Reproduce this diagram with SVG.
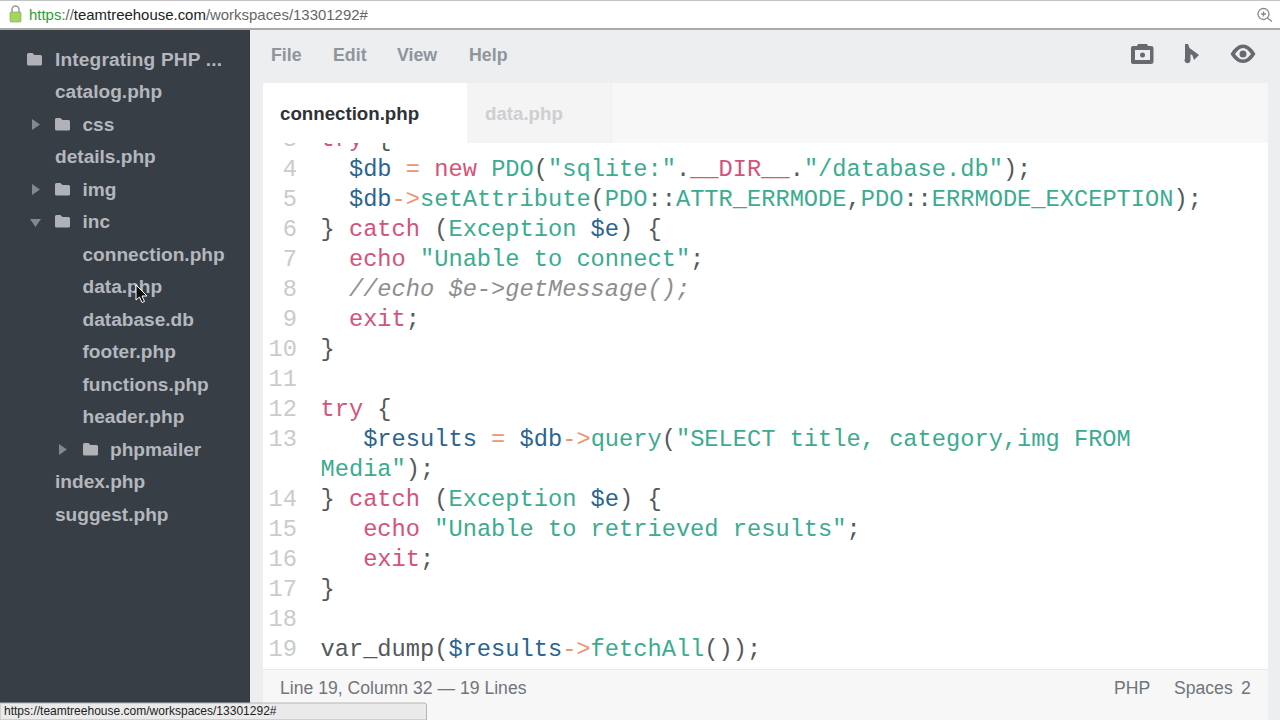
<svg xmlns="http://www.w3.org/2000/svg" width="1280" height="720" viewBox="0 0 1280 720">
<style>
.side{font:bold 19.1px "Liberation Sans",Arial,sans-serif;fill:#b4b7bd}
.menu{font:bold 17.8px "Liberation Sans",Arial,sans-serif;fill:#8f959b}
.ln{font:23.7px "Liberation Mono",monospace;fill:#c9cbcc;text-anchor:end}
.c{font:23.7px "Liberation Mono",monospace;fill:#55585b;white-space:pre}
.r{fill:#d4537a}.g{fill:#3bab91}.b{fill:#2a6490}.o{fill:#f0936f}.i{font-style:italic;fill:#8e8e8e}
.st{font:17.6px "Liberation Sans",Arial,sans-serif;fill:#70757a}
.fold{fill:#b0b2b7}.tri{fill:#84878c}
.icon{fill:#66696d}
</style>
<defs>
<clipPath id="codeclip"><rect x="263" y="143" width="1005" height="526"/></clipPath>
<path id="f" d="M0 1.500Q0 0 1.500 0H5.500L7.500 2H13.500Q15 2 15 3.500V11Q15 12.500 13.500 12.500H1.500Q0 12.500 0 11Z"/>
</defs>
<rect width="1280" height="720" fill="#eceef0"/>
<g id="browser-bar">
<rect width="1280" height="30" fill="#fff"/>
<rect y="0" width="1280" height="1" fill="#c4c4c4"/>
<rect y="28" width="1280" height="2" fill="#a9a9a9"/>
<rect x="10" y="12" width="11" height="10" rx="1" fill="#a4d65e" stroke="#8a9a60" stroke-width=".6"/>
<path d="M12 12V9.500a3.500 3.500 0 0 1 7 0V12" fill="none" stroke="#999" stroke-width="1.500"/>
<text x="29" y="20" font-family="Liberation Sans, Arial, sans-serif" font-size="14.950" fill="#666"><tspan fill="#2f9e2f">https</tspan>://<tspan fill="#222">teamtreehouse.com</tspan>/workspaces/13301292#</text>
<circle cx="1263.500" cy="14" r="5.500" fill="none" stroke="#888" stroke-width="1.300"/>
<path d="M1267.500 18L1272 21.500M1261 14H1266M1263.500 11.500V16.500" fill="none" stroke="#888" stroke-width="1.300"/>
</g>
<g id="sidebar">
<rect y="30" width="250" height="690" fill="#383e45"/>
<use href="#f" x="27" y="53" class="fold"/><text class="side" x="55" y="66" textLength="167" lengthAdjust="spacing">Integrating PHP ...</text>
<text class="side" x="55" y="98">catalog.php</text>
<path class="tri" d="M32 119L40 124.500L32 130Z"/><use href="#f" x="55" y="118" class="fold"/><text class="side" x="82.500" y="131">css</text>
<text class="side" x="55" y="163">details.php</text>
<path class="tri" d="M32 184L40 189.500L32 195Z"/><use href="#f" x="55" y="183" class="fold"/><text class="side" x="82.500" y="196">img</text>
<path class="tri" d="M30 219H41L35.500 227Z"/><use href="#f" x="55" y="215" class="fold"/><text class="side" x="82.500" y="228">inc</text>
<text class="side" x="82.500" y="261">connection.php</text>
<text class="side" x="82.500" y="293">data.php</text>
<text class="side" x="82.500" y="326">database.db</text>
<text class="side" x="82.500" y="358">footer.php</text>
<text class="side" x="82.500" y="391">functions.php</text>
<text class="side" x="82.500" y="423">header.php</text>
<path class="tri" d="M59 444L67 449.500L59 455Z"/><use href="#f" x="83" y="443" class="fold"/><text class="side" x="110" y="456">phpmailer</text>
<text class="side" x="55" y="488">index.php</text>
<text class="side" x="55" y="521">suggest.php</text>
</g>
<g id="menu">
<text class="menu" x="271" y="61">File</text>
<text class="menu" x="333" y="61">Edit</text>
<text class="menu" x="397" y="61">View</text>
<text class="menu" x="469" y="61">Help</text>
<g id="icons" class="icon">
<path fill-rule="evenodd" d="M1131 48Q1131 46 1133 46H1137L1138 44H1147L1148 46H1151Q1153.500 46 1153.500 48V62Q1153.500 64 1151 64H1133Q1131 64 1131 62ZM1135 50V60H1150V50Z"/>
<circle cx="1142.500" cy="55" r="2.500"/>
<path d="M1185 44H1188L1189.500 48L1199 55L1194 60L1192.500 55.500L1190.500 54V60a3 3 0 1 1-5.500-1.500Z"/>
<path fill-rule="evenodd" d="M1230.500 54Q1236 44.500 1243 44.500Q1250 44.500 1255.500 54Q1250 63 1243 63Q1236 63 1230.500 54ZM1235 54Q1239 59.500 1243 59.500Q1247 59.500 1251 54Q1247 48 1243 48Q1239 48 1235 54Z"/>
<circle cx="1243" cy="54" r="3.500"/>
</g>
</g>
<g id="editor">
<rect x="263" y="83" width="1005" height="60" fill="#f7f7f8"/>
<rect x="263" y="83" width="204" height="60" fill="#fff"/>
<rect x="467" y="83" width="145" height="60" fill="#f4f4f5"/>
<rect x="611" y="83" width="1" height="60" fill="#eeeeef"/>
<text x="280" y="120" font-family="Liberation Sans, Arial, sans-serif" font-weight="bold" font-size="18.700" fill="#2f3237">connection.php</text>
<text x="485" y="120" font-family="Liberation Sans, Arial, sans-serif" font-weight="bold" font-size="18.700" fill="#cdcfd2">data.php</text>
<rect x="263" y="143" width="1005" height="526" fill="#fff"/>
<g clip-path="url(#codeclip)">
<text class="ln" x="297" y="146">3</text>
<text class="ln" x="297" y="176">4</text>
<text class="ln" x="297" y="206">5</text>
<text class="ln" x="297" y="236">6</text>
<text class="ln" x="297" y="266">7</text>
<text class="ln" x="297" y="296">8</text>
<text class="ln" x="297" y="326">9</text>
<text class="ln" x="297" y="356">10</text>
<text class="ln" x="297" y="386">11</text>
<text class="ln" x="297" y="416">12</text>
<text class="ln" x="297" y="446">13</text>
<text class="ln" x="297" y="506">14</text>
<text class="ln" x="297" y="536">15</text>
<text class="ln" x="297" y="566">16</text>
<text class="ln" x="297" y="596">17</text>
<text class="ln" x="297" y="626">18</text>
<text class="ln" x="297" y="656">19</text>
<text class="c" xml:space="preserve" x="320.500" y="146"><tspan class="r">try</tspan> {</text>
<text class="c" xml:space="preserve" x="320.500" y="176">  <tspan class="b">$db</tspan> <tspan class="o">=</tspan> <tspan class="r">new</tspan> <tspan class="g">PDO</tspan>(<tspan class="g">"sqlite:"</tspan>.<tspan class="r">__DIR__</tspan>.<tspan class="g">"/database.db"</tspan>);</text>
<text class="c" xml:space="preserve" x="320.500" y="206">  <tspan class="b">$db</tspan><tspan class="o">-&gt;</tspan><tspan class="g">setAttribute</tspan>(<tspan class="g">PDO</tspan>::<tspan class="g">ATTR_ERRMODE</tspan>,<tspan class="g">PDO</tspan>::<tspan class="g">ERRMODE_EXCEPTION</tspan>);</text>
<text class="c" xml:space="preserve" x="320.500" y="236">} <tspan class="r">catch</tspan> (<tspan class="g">Exception</tspan> <tspan class="b">$e</tspan>) {</text>
<text class="c" xml:space="preserve" x="320.500" y="266">  <tspan class="r">echo</tspan> <tspan class="g">"Unable to connect"</tspan>;</text>
<text class="c" xml:space="preserve" x="320.500" y="296">  <tspan class="i">//echo $e-&gt;getMessage();</tspan></text>
<text class="c" xml:space="preserve" x="320.500" y="326">  <tspan class="r">exit</tspan>;</text>
<text class="c" xml:space="preserve" x="320.500" y="356">}</text>
<text class="c" xml:space="preserve" x="320.500" y="416"><tspan class="r">try</tspan> {</text>
<text class="c" xml:space="preserve" x="320.500" y="446">   <tspan class="b">$results</tspan> <tspan class="o">=</tspan> <tspan class="b">$db</tspan><tspan class="o">-&gt;</tspan><tspan class="g">query</tspan>(<tspan class="g">"SELECT title, category,img FROM</tspan></text>
<text class="c" xml:space="preserve" x="320.500" y="476"><tspan class="g">Media"</tspan>);</text>
<text class="c" xml:space="preserve" x="320.500" y="506">} <tspan class="r">catch</tspan> (<tspan class="g">Exception</tspan> <tspan class="b">$e</tspan>) {</text>
<text class="c" xml:space="preserve" x="320.500" y="536">   <tspan class="r">echo</tspan> <tspan class="g">"Unable to retrieved results"</tspan>;</text>
<text class="c" xml:space="preserve" x="320.500" y="566">   <tspan class="r">exit</tspan>;</text>
<text class="c" xml:space="preserve" x="320.500" y="596">}</text>
<text class="c" xml:space="preserve" x="320.500" y="656">var_dump(<tspan class="b">$results</tspan><tspan class="o">-&gt;</tspan><tspan class="g">fetchAll</tspan>());</text>
</g>
<rect x="263" y="669" width="1005" height="1" fill="#e8e9ea"/>
<rect x="263" y="670" width="1005" height="50" fill="#f7f7f8"/>
<text class="st" x="280" y="694">Line 19, Column 32 — 19 Lines</text>
<text class="st" x="1114" y="694">PHP</text>
<text class="st" x="1174" y="694">Spaces</text>
<text class="st" x="1241" y="694">2</text>
</g>
<g id="cursor">
<path d="M136 285V300L139.500 297L142 302.500L144.500 301.500L142 296H147Z" fill="#111" stroke="#fff" stroke-width="1"/>
</g>
<g id="status-tooltip">
<path d="M0 703H424Q426.500 703 426.500 705V720H0Z" fill="#eaeaea" stroke="#b5b5b5" stroke-width="1"/>
<text x="4" y="715" font-family="Liberation Sans, Arial, sans-serif" font-size="12.020" fill="#222">https://teamtreehouse.com/workspaces/13301292#</text>
</g>
</svg>
